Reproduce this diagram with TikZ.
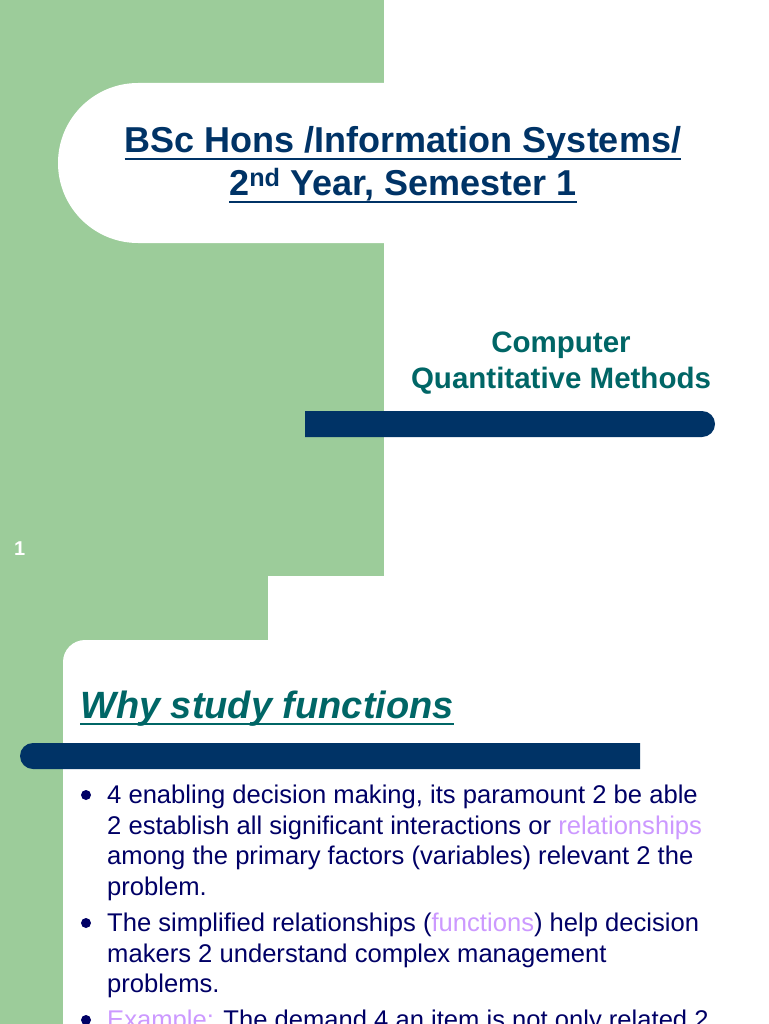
\documentclass[tikz,border=0pt]{standalone}
\usepackage{fontspec}
\setmainfont{Liberation Sans}
\definecolor{gr}{HTML}{9CCC9A}
\definecolor{nb}{HTML}{003366}
\definecolor{tl}{HTML}{006666}
\definecolor{tx}{HTML}{000066}
\definecolor{pu}{HTML}{CC99FF}
\begin{document}
\begin{tikzpicture}[x=1pt,y=-1pt,
  ln/.style={anchor=base west,inner sep=0,font=\fontsize{25.6}{30}\selectfont,text=tx},
  ttl/.style={anchor=base,inner sep=0,font=\fontsize{36}{42}\selectfont\bfseries,text=nb},
  ul/.style={line width=2.5pt}]
\useasboundingbox (0,0) rectangle (768,1024);
\clip (0,0) rectangle (768,1024);
\fill[white] (0,0) rectangle (768,1024);
% top slide
\fill[gr] (0,0) rectangle (384,576);
\fill[white] (768,83) -- (138,83) arc[start angle=-90,end angle=-270,radius=80] -- (768,243) -- cycle;
\fill[nb] (305,411) -- (702,411) arc[start angle=-90,end angle=90,radius=13] -- (305,437) -- cycle;
\node[ttl] (t1) at (403,153) {BSc Hons /Information Systems/};
\node[ttl] (t2) at (403,196) {2\textsuperscript{nd} Year, Semester 1};
\draw[ul,nb] ([yshift=-6pt]t1.base west) -- ([yshift=-6pt]t1.base east);
\draw[ul,nb] ([yshift=-6pt]t2.base west) -- ([yshift=-6pt]t2.base east);
\node[anchor=base,inner sep=0,font=\fontsize{29.5}{34}\selectfont\bfseries,text=tl] (c1) at (561,352) {Computer};
\node[anchor=base,inner sep=0,font=\fontsize{29.5}{34}\selectfont\bfseries,text=tl] (c2) at (561,388) {Quantitative Methods};
\node[anchor=base west,inner sep=0,font=\fontsize{20}{24}\selectfont\bfseries,text=white] (n1) at (14,555) {1};
% bottom slide
\fill[gr] (0,576) rectangle (268,1024);
\fill[white] (768,640) -- (85,640) arc[start angle=-90,end angle=-180,radius=22] -- (63,1024) -- (768,1024) -- cycle;
\fill[nb] (33,743) -- (640,743) -- (640,769) -- (33,769) arc[start angle=90,end angle=270,radius=13] -- cycle;
\node[anchor=base west,inner sep=0,font=\fontsize{38}{44}\selectfont\bfseries\itshape,text=tl] (w) at (80,718) {Why study functions};
\draw[ul,tl] ([yshift=-6pt]w.base west) -- ([yshift=-6pt]w.base east);
\foreach \y in {803,931,1028} \fill[tx] (86,\y-8) circle (5);
\node[ln] (l1) at (107,803) {4 enabling decision making, its paramount 2 be able};
\node[ln] (l2) at (107,834) {2 establish all significant interactions or \textcolor{pu}{relationships}};
\node[ln] (l3) at (107,864) {among the primary factors (variables) relevant 2 the};
\node[ln] (l4) at (107,895) {problem.};
\node[ln] (l5) at (107,931) {The simplified relationships (\textcolor{pu}{functions}) help decision};
\node[ln] (l6) at (107,962) {makers 2 understand complex management};
\node[ln] (l7) at (107,992) {problems.};
\node[ln] (l8) at (107,1028) {\textcolor{pu}{Example:} The demand 4 an item is not only related 2};
\end{tikzpicture}
\end{document}
